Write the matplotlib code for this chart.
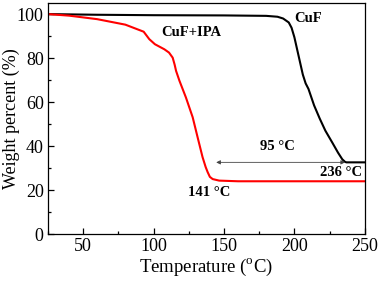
import matplotlib
matplotlib.use("Agg")
import matplotlib.pyplot as plt
from matplotlib.ticker import MultipleLocator

plt.rcParams["font.family"] = ["Liberation Serif", "DejaVu Serif"]
plt.rcParams["mathtext.fontset"] = "custom"
plt.rcParams["mathtext.rm"] = "Liberation Serif"

# CuF (black) TGA curve
cuf_t = [25, 60, 100, 150, 180, 188, 192, 196, 198, 200, 203, 206, 208, 210, 214, 218, 222, 227, 231, 234, 236, 237, 250]
cuf_w = [100, 99.7, 99.5, 99.4, 99.2, 98.8, 98.0, 96.2, 93.8, 89.5, 81.0, 72.5, 68.5, 66.0, 58.5, 52.5, 47.0, 41.5, 37.0, 34.0, 32.8, 32.6, 32.6]

# CuF+IPA (red) TGA curve
ipa_t = [25, 40, 60, 80, 93, 95, 97, 101, 107.7, 111, 113.6, 115, 116, 118.4, 123, 127.8, 131.3, 134.8, 137, 138.4, 140, 142, 146.6, 160, 250]
ipa_w = [100, 99.3, 97.7, 95.2, 92.0, 90.3, 88.6, 86.3, 84.0, 82.5, 80.2, 77.0, 74.2, 69.7, 62.1, 53.1, 44.0, 35.0, 30.5, 28.2, 26.0, 25.0, 24.3, 24.0, 24.0]

fig = plt.figure(figsize=(3.8, 2.82), dpi=100)
ax = fig.add_axes([0.126, 0.170, 0.834, 0.819])

ax.plot(cuf_t, cuf_w, color="black", lw=1.5)
ax.plot(ipa_t, ipa_w, color="#ff0000", lw=1.5)

ax.annotate("", xy=(144.5, 32.6), xytext=(236, 32.6),
            arrowprops=dict(arrowstyle="<|-|>", color="#444444", lw=0.6,
                            mutation_scale=6, shrinkA=0, shrinkB=0))

ax.text(210, 98.2, "CuF", fontsize=10.5, fontweight="bold", ha="center", va="center")
ax.text(127, 91.5, "CuF+IPA", fontsize=10.5, fontweight="bold", ha="center", va="center")
ax.text(188, 39.8, "95 \u00b0C", fontsize=10.5, fontweight="bold", ha="center", va="center")
ax.text(233, 28, "236 \u00b0C", fontsize=10.5, fontweight="bold", ha="center", va="center")
ax.text(139.6, 19, "141 \u00b0C", fontsize=10.5, fontweight="bold", ha="center", va="center")

ax.set_xlim(25, 250)
ax.set_ylim(0, 105)
ax.xaxis.set_major_locator(MultipleLocator(50))
ax.xaxis.set_minor_locator(MultipleLocator(25))
ax.yaxis.set_major_locator(MultipleLocator(20))
ax.yaxis.set_minor_locator(MultipleLocator(10))
ax.tick_params(which="both", direction="in", labelsize=13, pad=3)
ax.tick_params(which="major", length=4, width=0.9)
ax.tick_params(which="minor", length=2.5, width=0.9)
for s in ax.spines.values():
    s.set_linewidth(0.9)

ax.set_xlabel("Temperature ($^{\\rm o}$C)", fontsize=13.5, labelpad=1)
ax.set_ylabel("Weight percent (%)", fontsize=13, labelpad=-2)

fig.savefig("out.png", dpi=100)
